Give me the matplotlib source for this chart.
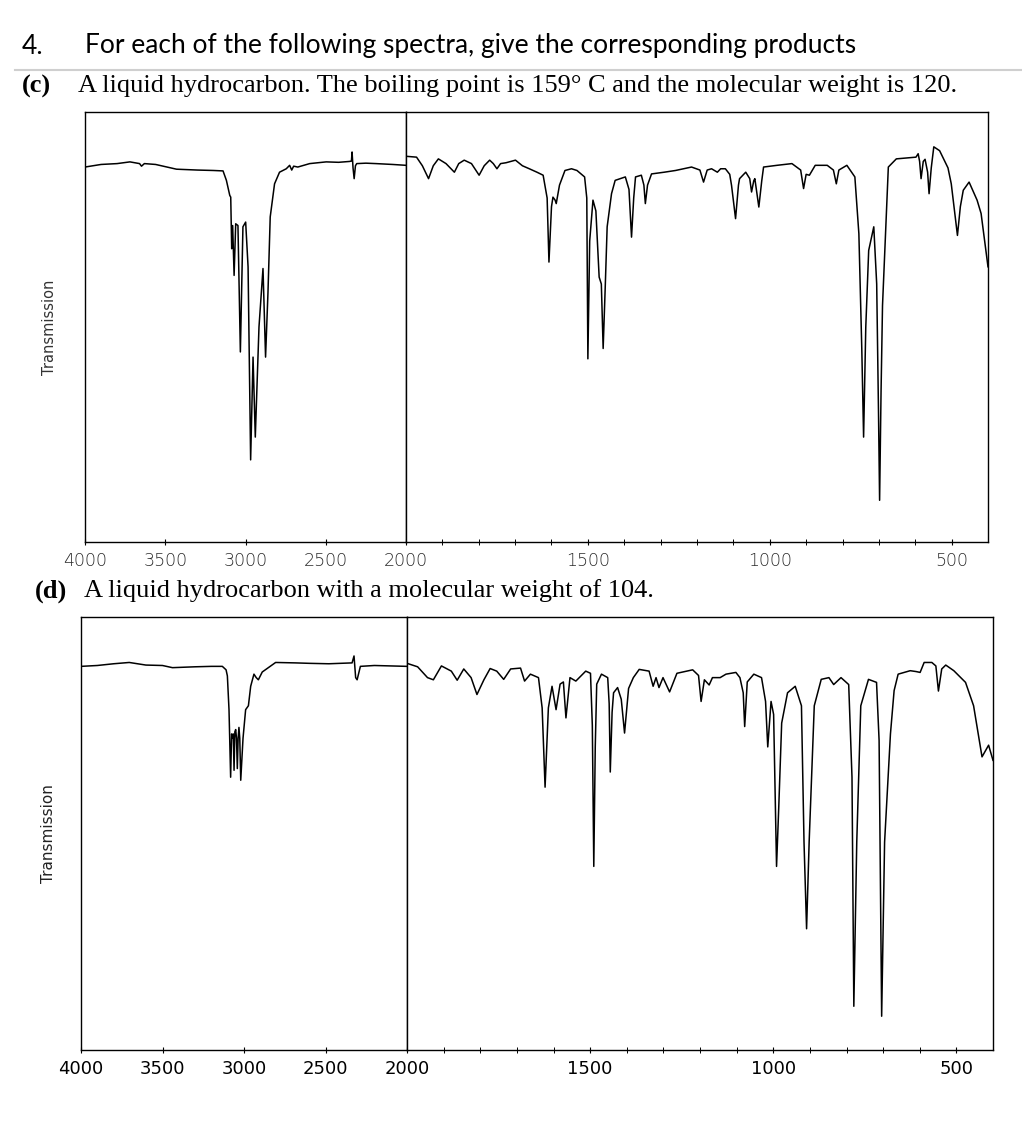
import matplotlib.pyplot as plt
from matplotlib.ticker import FixedLocator, NullFormatter

# (c) spectrum, 4000-2000 cm-1 part
c_left_wn = [4000, 3900, 3800, 3720, 3660, 3648, 3630, 3560, 3430, 3300, 3200, 3140,
             3119, 3098, 3092, 3086, 3080, 3071, 3061, 3047, 3032, 3016, 2999, 2984,
             2968, 2953, 2939, 2916, 2891, 2875, 2860, 2846, 2819, 2788, 2746, 2725,
             2712, 2700, 2674, 2600, 2497, 2420, 2352, 2340, 2336, 2330, 2323, 2315,
             2307, 2250, 2187, 2083, 2000]
c_left_t = [87.2, 87.8, 88.0, 88.4, 88.0, 87.4, 88.0, 87.8, 86.7, 86.5, 86.4, 86.3,
            84.1, 80.6, 80.2, 68.2, 73.6, 62.0, 74.0, 73.6, 44.2, 73.3, 74.4, 64.0,
            19.1, 43.0, 24.4, 50.0, 63.6, 43.0, 58.0, 75.6, 83.3, 86.0, 86.8, 87.6,
            86.5, 87.4, 87.2, 88.0, 88.4, 88.3, 88.5, 88.6, 90.7, 87.0, 84.5, 87.5,
            88.0, 88.1, 88.0, 87.8, 87.6]

# (c) spectrum, 2000-400 cm-1 part
c_right_wn = [2000, 1971, 1955, 1938, 1925, 1911, 1890, 1867, 1855, 1840, 1820, 1799,
              1785, 1770, 1760, 1750, 1740, 1725, 1699, 1680, 1661, 1640, 1623, 1612,
              1607, 1600, 1596, 1590, 1587, 1578, 1563, 1545, 1530, 1509, 1503, 1500,
              1495, 1486, 1478, 1469, 1463, 1458, 1452, 1447, 1435, 1425, 1397, 1387,
              1380, 1374, 1369, 1353, 1346, 1342, 1336, 1325, 1290, 1259, 1215, 1192,
              1182, 1172, 1160, 1150, 1144, 1135, 1122, 1110, 1105, 1094, 1086, 1083,
              1066, 1055, 1050, 1044, 1041, 1030, 1022, 1017, 980, 939, 915, 907,
              900, 891, 875, 842, 825, 817, 810, 788, 766, 755, 747, 742,
              736, 728, 714, 706, 701, 698, 694, 690, 674, 652, 598, 592,
              588, 584, 578, 573, 566, 562, 556, 549, 533, 510, 501, 484,
              476, 468, 452, 430, 419, 400]
c_right_t = [89.7, 89.5, 87.5, 84.5, 87.5, 89.1, 88.0, 86.0, 88.0, 88.8, 88.0, 85.3,
             87.5, 88.8, 88.0, 86.8, 88.0, 88.2, 88.8, 87.5, 86.8, 86.0, 85.3, 80.0,
             65.1, 78.0, 80.2, 79.5, 78.7, 83.0, 86.4, 86.8, 86.4, 84.9, 80.0, 42.6,
             70.0, 79.5, 77.0, 61.6, 60.0, 45.0, 60.0, 73.3, 81.0, 84.1, 84.9, 82.0,
             70.9, 80.0, 84.9, 85.3, 83.0, 78.7, 83.0, 85.6, 86.0, 86.4, 87.2, 86.5,
             83.7, 86.5, 86.8, 86.3, 86.0, 86.8, 86.8, 85.5, 82.9, 75.2, 83.0, 84.5,
             86.0, 84.5, 81.4, 84.0, 84.5, 77.9, 84.0, 87.2, 87.6, 88.0, 86.5, 82.2,
             85.5, 85.3, 87.6, 87.6, 86.5, 83.3, 86.5, 87.6, 84.9, 71.7, 45.0, 24.4,
             50.0, 67.8, 73.3, 60.0, 30.0, 9.7, 35.0, 55.0, 87.2, 89.1, 89.5, 90.3,
             88.5, 84.5, 88.5, 89.0, 86.0, 81.0, 87.0, 91.9, 91.0, 87.0, 83.3, 71.3,
             78.0, 81.8, 83.7, 79.5, 76.4, 64.0]

# (d) spectrum, 4000-2000 cm-1 part
d_left_wn = [4000, 3900, 3800, 3704, 3602, 3500, 3439, 3300, 3200, 3133, 3110, 3102,
             3092, 3082, 3076, 3071, 3066, 3061, 3056, 3051, 3046, 3041, 3036, 3031,
             3026, 3020, 3006, 2990, 2973, 2959, 2939, 2925, 2912, 2888, 2806, 2684,
             2600, 2480, 2337, 2325, 2315, 2306, 2286, 2200, 2100, 2000]
d_left_t = [88.6, 88.8, 89.2, 89.5, 88.9, 88.8, 88.3, 88.5, 88.6, 88.6, 87.8, 86.4,
            78.6, 63.0, 73.0, 72.0, 73.0, 64.6, 73.5, 74.0, 72.0, 65.0, 72.0, 74.5,
            72.0, 62.3, 72.0, 78.6, 79.5, 84.0, 86.8, 86.0, 85.5, 87.3, 89.5, 89.4,
            89.3, 89.2, 89.4, 91.0, 86.0, 85.5, 88.6, 88.8, 88.7, 88.6]

# (d) spectrum, 2000-400 cm-1 part
d_right_wn = [2000, 1971, 1944, 1928, 1906, 1879, 1863, 1845, 1825, 1809, 1790, 1773,
              1755, 1736, 1717, 1690, 1679, 1663, 1641, 1631, 1623, 1614, 1604, 1593,
              1582, 1573, 1566, 1555, 1539, 1512, 1499, 1494, 1490, 1486, 1482, 1469,
              1452, 1448, 1445, 1440, 1436, 1425, 1415, 1406, 1395, 1382, 1366, 1339,
              1328, 1320, 1312, 1301, 1283, 1263, 1220, 1204, 1197, 1188, 1175, 1166,
              1145, 1129, 1102, 1091, 1082, 1078, 1071, 1053, 1032, 1021, 1015, 1006,
              999, 995, 991, 985, 977, 961, 940, 923, 916, 909, 902, 888,
              869, 848, 835, 815, 794, 785, 780, 772, 761, 740, 718, 711,
              704, 696, 680, 670, 659, 626, 610, 599, 588, 567, 556, 549,
              540, 529, 507, 475, 453, 430, 412, 400]
d_right_t = [89.3, 88.5, 86.0, 85.5, 88.7, 87.5, 85.4, 88.0, 86.0, 82.1, 85.5, 88.1,
             87.5, 85.6, 88.0, 88.2, 85.2, 86.8, 86.0, 79.0, 60.7, 79.0, 84.0, 78.6,
             84.5, 85.0, 76.7, 86.0, 85.2, 87.5, 87.0, 75.0, 42.4, 70.0, 84.5, 86.8,
             86.0, 80.0, 64.2, 78.0, 82.5, 83.7, 81.0, 73.2, 83.5, 86.0, 87.9, 87.5,
             84.0, 86.0, 83.7, 86.0, 82.7, 87.0, 87.8, 86.5, 80.5, 85.5, 84.3, 86.0,
             86.0, 86.8, 87.2, 86.0, 82.5, 74.7, 85.0, 86.8, 86.0, 80.5, 70.0, 80.5,
             77.5, 60.0, 42.4, 56.0, 75.5, 82.5, 84.0, 79.5, 48.0, 28.0, 48.0, 79.5,
             85.6, 86.0, 84.4, 86.0, 84.4, 63.0, 10.1, 48.0, 79.5, 85.6, 84.9, 71.5,
             7.8, 48.0, 73.0, 83.0, 86.8, 87.6, 87.4, 87.2, 89.5, 89.5, 88.7, 82.9,
             88.0, 88.9, 87.6, 84.9, 79.5, 67.7, 70.4, 66.9]

left_ticks = [4000, 3500, 3000, 2500, 2000]
right_ticks = [1500, 1000, 500]
right_minor = list(range(1900, 400, -100))

header = "For each of the following spectra, give the corresponding products"
caption_c = "A liquid hydrocarbon. The boiling point is 159° C and the molecular weight is 120."
caption_d = "A liquid hydrocarbon with a molecular weight of 104."

W, H = 1022, 1134
fig = plt.figure(figsize=(W / 100, H / 100), dpi=100)


def px_rect(x0, x1, y_top, y_bot):
    return [x0 / W, 1 - y_bot / H, (x1 - x0) / W, (y_bot - y_top) / H]


def draw_spectrum(x0, xmid, x1, y_top, y_bot, lw_data, rw_data, tick_font):
    ax_l = fig.add_axes(px_rect(x0, xmid, y_top, y_bot))
    ax_r = fig.add_axes(px_rect(xmid, x1, y_top, y_bot))
    ax_l.plot(lw_data[0], lw_data[1], color='black', lw=1.1)
    ax_r.plot(rw_data[0], rw_data[1], color='black', lw=1.1)
    ax_l.set_xlim(4000, 2000)
    ax_r.set_xlim(2000, 400)
    for ax in (ax_l, ax_r):
        ax.set_ylim(0, 100)
        ax.set_yticks([])
        for s in ax.spines.values():
            s.set_linewidth(1.0)
        ax.tick_params(axis='x', direction='inout', length=5, width=0.8, pad=5, **tick_font)
    ax_l.xaxis.set_major_locator(FixedLocator(left_ticks))
    ax_r.xaxis.set_major_locator(FixedLocator(right_ticks))
    ax_r.xaxis.set_minor_locator(FixedLocator(right_minor))
    ax_r.xaxis.set_minor_formatter(NullFormatter())
    ax_r.tick_params(axis='x', which='minor', direction='inout', length=4, width=0.7)
    return ax_l, ax_r


# panel (c)
c_l, c_r = draw_spectrum(85, 406, 988, 112, 542, (c_left_wn, c_left_t), (c_right_wn, c_right_t),
                         dict(labelsize=12.5, labelcolor='#2a2a2a'))
for lab in c_l.get_xticklabels() + c_r.get_xticklabels():
    lab.set_fontweight('light')
c_l.set_ylabel('Transmission', fontsize=10.5, color='#333333', labelpad=20)

# panel (d)
d_l, d_r = draw_spectrum(81, 407, 993, 617, 1050, (d_left_wn, d_left_t), (d_right_wn, d_right_t),
                         dict(labelsize=13, labelcolor='black'))
d_l.set_ylabel('Transmission', fontsize=11, color='#222222', labelpad=18)

# header text
fig.text(22 / W, 1 - 46 / H, "4.", fontsize=19, family='Lato', va='center', ha='left')
fig.text(85 / W, 1 - 46 / H, header, fontsize=19, family='Lato', va='center', ha='left')
fig.add_artist(plt.Line2D([15 / W, 1.0], [1 - 70 / H, 1 - 70 / H], color='#cfcfcf', lw=1.5))

fig.text(22 / W, 1 - 86 / H, "(c)", fontsize=19, family='Liberation Serif', weight='bold',
         va='center', ha='left')
fig.text(78 / W, 1 - 86 / H, caption_c, fontsize=19, family='Liberation Serif',
         va='center', ha='left')
fig.text(35 / W, 1 - 591 / H, "(d)", fontsize=19, family='Liberation Serif', weight='bold',
         va='center', ha='left')
fig.text(84 / W, 1 - 591 / H, caption_d, fontsize=19, family='Liberation Serif',
         va='center', ha='left')

fig.savefig('out.png', dpi=100)
